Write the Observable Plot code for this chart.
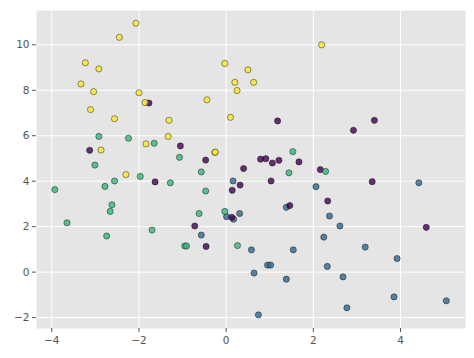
<!DOCTYPE html>
<html>
<head>
<meta charset="utf-8">
<script src="https://cdn.jsdelivr.net/npm/d3@7"></script>
<script src="https://cdn.jsdelivr.net/npm/@observablehq/plot@0.6"></script>
<style>
  html, body { margin: 0; padding: 0; background: #ffffff; }
  #chart svg { display: block; }
</style>
</head>
<body>
<div id="chart"></div>
<script>
// Cluster 0 (purple)
const x0 = [-1.77, -3.13, -1.05, -0.47, -1.63, -0.72, -0.46, 0.14, 0.32, 0.13, 1.18, 2.92, 3.40, 0.40, 0.79, 0.91, 1.06, 1.21, 1.67, 2.16, 1.03, 3.35, 1.46, 2.33, 4.59];
const y0 = [7.44, 5.36, 5.55, 4.93, 3.97, 2.03, 1.13, 3.60, 3.83, 2.41, 6.65, 6.24, 6.68, 4.56, 4.97, 4.99, 4.80, 4.92, 4.85, 4.51, 4.01, 3.98, 2.93, 3.13, 1.97];
// Cluster 1 (blue)
const x1 = [0.16, -0.57, 0.01, 0.17, 0.31, 2.06, 4.42, 1.38, 2.37, 2.61, 2.24, 3.19, 3.92, 0.58, 1.54, 0.95, 1.02, 0.64, 1.38, 2.32, 2.68, 3.85, 5.05, 2.77, 0.74];
const y1 = [4.01, 1.63, 2.44, 2.33, 2.58, 3.76, 3.93, 2.85, 2.47, 2.03, 1.54, 1.10, 0.60, 0.98, 0.98, 0.31, 0.31, -0.04, -0.31, 0.25, -0.21, -1.09, -1.26, -1.57, -1.88];
// Cluster 2 (green)
const x2 = [-2.92, -2.24, -1.65, -1.07, -3.01, -0.57, -1.97, -2.56, -1.28, -3.93, -2.78, -3.65, -2.62, -2.66, -2.74, -1.70, -0.95, -0.91, -0.47, -0.62, -0.03, 0.26, 1.53, 1.44, 2.28];
const y2 = [5.97, 5.89, 5.67, 5.05, 4.71, 4.41, 4.21, 4.01, 3.93, 3.63, 3.77, 2.17, 2.96, 2.67, 1.59, 1.85, 1.15, 1.15, 3.57, 2.58, 2.67, 1.17, 5.30, 4.37, 4.43];
// Cluster 3 (yellow)
const x3 = [-2.07, -2.45, -3.23, -2.92, -3.33, -3.04, -2.00, -3.11, -1.86, -2.56, -0.44, -0.03, 0.20, 0.25, 0.10, -1.31, -1.33, -1.84, -2.87, -0.26, -0.25, -2.30, 0.50, 0.63, 2.19];
const y3 = [10.95, 10.33, 9.21, 8.94, 8.28, 7.94, 7.89, 7.15, 7.46, 6.75, 7.58, 9.18, 8.35, 7.99, 6.81, 6.68, 5.97, 5.64, 5.37, 5.27, 5.28, 4.29, 8.90, 8.35, 10.00];

const clusterColors = ["#440154", "#31688e", "#35b779", "#fde725"];
const xTicks = [-4, -2, 0, 2, 4];
const yTicks = [-2, 0, 2, 4, 6, 8, 10];

const groups = [[x0, y0], [x1, y1], [x2, y2], [x3, y3]];
const points = [];
// interleave so no single cluster is always on top
const n = Math.max(...groups.map(g => g[0].length));
for (let i = 0; i < n; i++) {
  groups.forEach((g, k) => {
    if (i < g[0].length) points.push({x: g[0][i], y: g[1][i], c: k});
  });
}

const chart = Plot.plot({
  width: 474,
  height: 358,
  marginLeft: 36,
  marginRight: 9,
  marginTop: 10,
  marginBottom: 30,
  style: {fontFamily: "DejaVu Sans", fontSize: "10.5px", color: "#555555", background: "#ffffff"},
  x: {domain: [-4.35, 5.49], ticks: xTicks, tickSize: 4, tickPadding: 4, label: null, tickFormat: d => d < 0 ? "\u2212" + Math.abs(d) : String(d)},
  y: {domain: [-2.48, 11.51], ticks: yTicks, tickSize: 4, tickPadding: 3, label: null, tickFormat: d => d < 0 ? "\u2212" + Math.abs(d) : String(d)},
  color: {type: "ordinal", domain: [0, 1, 2, 3], range: clusterColors},
  marks: [
    Plot.frame({fill: "#e5e5e5", stroke: null}),
    Plot.gridX(xTicks, {stroke: "#ffffff", strokeOpacity: 1, strokeWidth: 1}),
    Plot.gridY(yTicks, {stroke: "#ffffff", strokeOpacity: 1, strokeWidth: 1}),
    Plot.axisX(xTicks, {tickSize: 4, tickPadding: 4, stroke: "#555555", fill: "#555555", label: null, tickFormat: d => d < 0 ? "\u2212" + Math.abs(d) : String(d)}),
    Plot.axisY(yTicks, {tickSize: 4, tickPadding: 3, stroke: "#555555", fill: "#555555", label: null, tickFormat: d => d < 0 ? "\u2212" + Math.abs(d) : String(d)}),
    Plot.dot(points, {x: "x", y: "y", fill: "c", r: 3.1, fillOpacity: 0.8, stroke: "#000000", strokeOpacity: 0.7, strokeWidth: 0.6})
  ]
});
document.getElementById("chart").appendChild(chart);
</script>
</body>
</html>
